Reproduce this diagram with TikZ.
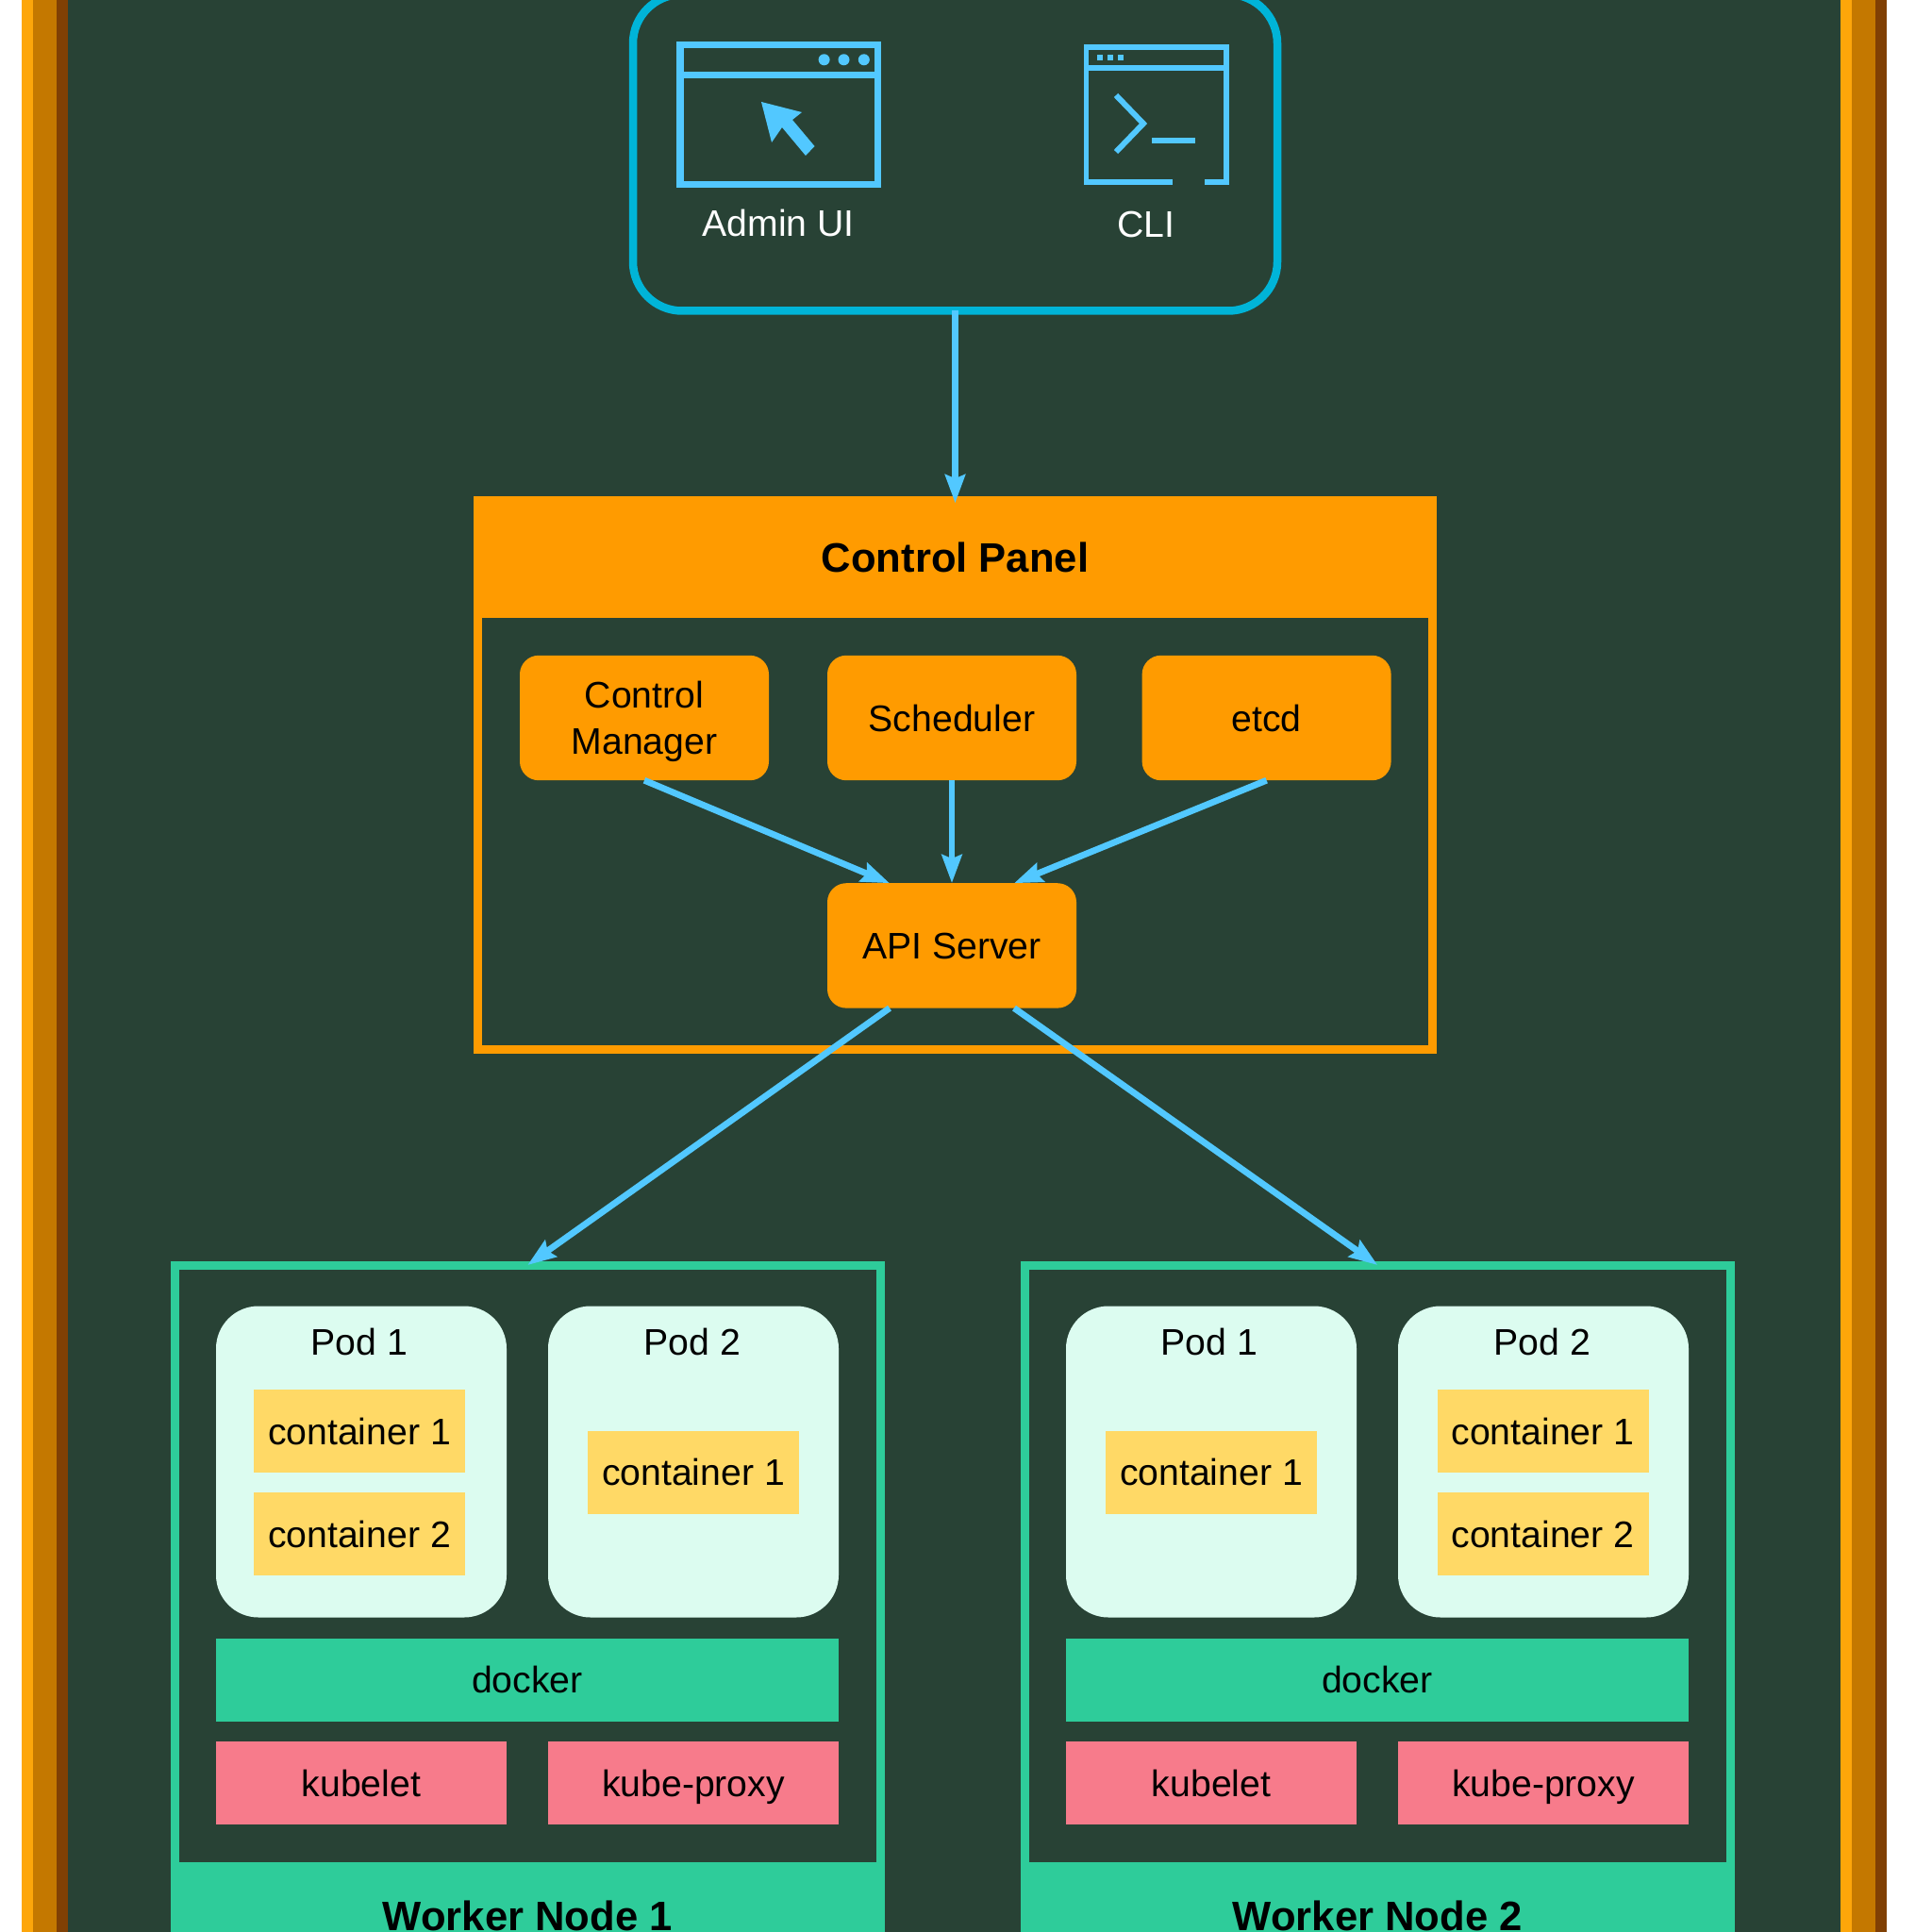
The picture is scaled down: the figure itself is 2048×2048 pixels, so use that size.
\documentclass[tikz,border=0pt]{standalone}
\usepackage{fontspec}
\setmainfont{Liberation Sans}
\usetikzlibrary{arrows.meta}

\definecolor{board}{RGB}{40,66,53}
\definecolor{frameA}{RGB}{253,166,10}
\definecolor{frameB}{RGB}{196,120,0}
\definecolor{frameC}{RGB}{128,64,4}
\definecolor{panel}{RGB}{255,155,0}
\definecolor{client}{RGB}{0,180,216}
\definecolor{flow}{RGB}{82,200,255}
\definecolor{worker}{RGB}{46,204,154}
\definecolor{podfill}{RGB}{220,252,240}
\definecolor{cont}{RGB}{255,217,102}
\definecolor{agent}{RGB}{247,123,139}

\begin{document}
\begin{tikzpicture}[x=.5pt, y=-.5pt]
	\tikzstyle{txt} = [inner sep=0pt, outer sep=0pt, text depth=0pt, align=center, font={\fontsize{19.6}{24.3}\selectfont}];
	\tikzstyle{head} = [txt, fill, font={\fontsize{21.8}{26}\selectfont\bfseries}];
	\tikzstyle{service} = [txt, fill=panel, rounded corners=10pt, minimum width=132pt, minimum height=66.2pt];
	\tikzstyle{pod} = [txt, fill=podfill, rounded corners=22.5pt, minimum width=154pt, minimum height=165pt];
	\tikzstyle{cbox} = [txt, fill=cont, minimum width=112pt, minimum height=44pt];
	\tikzstyle{agentbox} = [txt, fill=agent, minimum width=154pt, minimum height=44pt];
	\tikzstyle{dockerbox} = [txt, fill=worker, minimum width=330pt, minimum height=44pt];
	\tikzstyle{link} = [-{Stealth[length=15pt, width=10.5pt, inset=2pt]}, line width=3.4pt, color=flow];
	\tikzstyle{icon} = [color=flow, line join=miter];

	\useasboundingbox (0,0) rectangle (2048,2048);

	% frame
	\fill[board] (72,0) rectangle (1950.5,2048);
	\fill[frameA] (22.5,0) rectangle (35,2048);
	\fill[frameB] (35,0) rectangle (60,2048);
	\fill[frameC] (60,0) rectangle (72,2048);
	\fill[frameA] (1950.5,0) rectangle (1963,2048);
	\fill[frameB] (1963,0) rectangle (1988,2048);
	\fill[frameC] (1988,0) rectangle (2000,2048);

	% clients
	\node[txt, draw=client, line width=4.25pt, rounded corners=26pt, minimum width=341.5pt, minimum height=167.75pt] (clients) at (1012.5,161.75) {};

	\draw[icon, line width=3.6pt] (721,47.5) rectangle (930.5,195.5);
	\draw[icon, line width=3.6pt] (721,79.5) -- (930.5,79.5);
	\foreach \x in {873.6,894.5,915.8}
		\fill[flow] (\x,63.3) circle (3pt);
	\fill[flow] (807,108) -- (850,119) -- (840,127) -- (863.5,155) -- (854,165) -- (829,135) -- (818,151) -- cycle;
	\node[txt, white] (admin) at (825,236) {Admin UI};

	\draw[icon, line width=2.7pt] (1242.5,193) -- (1151.5,193) -- (1151.5,50) -- (1300,50) -- (1300,193) -- (1277,193);
	\draw[icon, line width=2.7pt] (1151.5,72) -- (1300,72);
	\foreach \x in {1163,1174,1185}
		\fill[flow] (\x,58) rectangle ++(6,6);
	\draw[icon, line width=3pt] (1183,101) -- (1212,131) -- (1183,161);
	\fill[flow] (1220.7,146) rectangle (1267,152);
	\node[txt, white] (cli) at (1214.6,238) {CLI};

	% control panel
	\node[txt, draw=panel, line width=4.5pt, minimum width=506pt, minimum height=291.1pt] (ctrl) at (1012.5,821.4) {};
	\node[head, color=panel, text=black, minimum width=510.5pt, minimum height=64.85pt] (ctrlhead) at (1012.5,590.6) {Control Panel};
	\node[service] (manager) at (683,761) {Control\\Manager};
	\node[service] (sched) at (1009,761) {Scheduler};
	\node[service] (etcd) at (1342.6,761) {etcd};
	\node[service] (api) at (1009,1002.4) {API Server};

	% worker nodes
	\foreach \xo/\wi in {0/1,901/2} {
		\node[txt, draw=worker, line width=4.5pt, minimum width=373.75pt, minimum height=374.5pt] (worker\wi) at (\xo+559.25,1715.5) {};
		\node[head, color=worker, text=black, minimum width=378.25pt, minimum height=57.3pt] (workerhead\wi) at (\xo+559.25,2031) {Worker Node \wi};
		\node[pod] (pod\wi a) at (\xo+383,1549.5) {};
		\node[pod] (pod\wi b) at (\xo+735,1549.5) {};
		\node[txt] (podlabel\wi a) at (\xo+381,1422) {Pod 1};
		\node[txt] (podlabel\wi b) at (\xo+734,1422) {Pod 2};
		\node[dockerbox] (docker\wi) at (\xo+559,1780.5) {docker};
		\node[agentbox] (kubelet\wi) at (\xo+383,1890) {kubelet};
		\node[agentbox] (proxy\wi) at (\xo+735,1890) {kube-proxy};
	}

	\foreach \x/\y/\t [count=\ci] in {381/1517/container 1, 381/1626/container 2, 735/1560.5/container 1, 1284/1560.5/container 1, 1635.5/1517/container 1, 1635.5/1626/container 2}
		\node[cbox] (cont\ci) at (\x,\y) {\t};

	% connectors
	\draw[link, shorten >=-1.5pt] (clients.south) -- (ctrl.north);
	\draw[link] (manager.south) -- ([xshift=-33pt]api.north);
	\draw[link] (sched.south) -- (api.north);
	\draw[link] (etcd.south) -- ([xshift=33pt]api.north);
	\draw[link] ([xshift=-33pt]api.south) -- (worker1.north);
	\draw[link] ([xshift=33pt]api.south) -- (worker2.north);
\end{tikzpicture}
\end{document}
